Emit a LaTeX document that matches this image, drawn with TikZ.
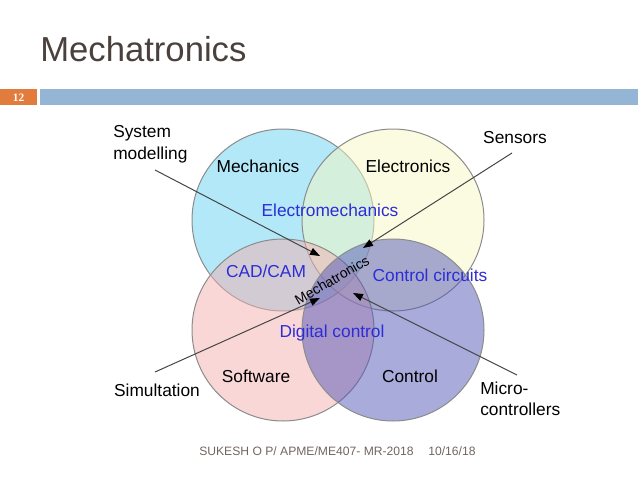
\documentclass[tikz,border=0pt]{standalone}
\usepackage{fontspec}
\setmainfont{Liberation Sans}
\newfontfamily\numfont{Liberation Serif}
\usetikzlibrary{arrows.meta}

\definecolor{titlegray}{RGB}{74,64,60}
\definecolor{slideorange}{RGB}{226,124,60}
\definecolor{slideblue}{RGB}{148,182,212}
\definecolor{mechfill}{RGB}{103,209,241}
\definecolor{elecfill}{RGB}{247,247,195}
\definecolor{softfill}{RGB}{243,175,175}
\definecolor{ctrlfill}{RGB}{83,87,183}
\definecolor{rimgray}{RGB}{140,140,140}
\definecolor{overlapblue}{RGB}{45,45,215}
\definecolor{footgray}{RGB}{115,100,95}

\tikzset{
  venn/.style={draw=rimgray, line width=0.75, fill opacity=0.5},
  field/.style={font=\fontsize{13}{15}\selectfont, inner sep=0},
  blend/.style={field, text=overlapblue},
  outer/.style={field, align=left},
  pointer/.style={draw={rgb, 255:red, 70; green, 70; blue, 70}, line width=0.75,
    -{Triangle[length=7.5pt,width=5.5pt,color=black]}}
}

\begin{document}
\begin{tikzpicture}[x=0.75pt,y=0.75pt,yscale=-1,xscale=1]
\useasboundingbox (0,0) rectangle (638,478);

%Title
\node [anchor=base west, inner sep=0, text=titlegray, font=\fontsize{26}{30}\selectfont] (title) at (40,61.5) {Mechatronics};
%Shape: Rectangle
\fill [slideorange] (0,89) rectangle (37,105);
\node [text=white, inner sep=0, font=\numfont\bfseries\fontsize{8.5}{9}\selectfont] (pagenum) at (18.5,97.5) {12};
%Shape: Rectangle
\fill [slideblue] (40,89) rectangle (638,105);

%Shape: Circle
\draw [venn, fill=mechfill] (283,220) circle (91);
%Shape: Circle
\draw [venn, fill=elecfill] (393,220) circle (91);
%Shape: Circle
\draw [venn, fill=softfill] (283,330) circle (91);
%Shape: Circle
\draw [venn, fill=ctrlfill] (393,330) circle (91);

%Circle labels
\node [field] (mech) at (258,166) {Mechanics};
\node [field] (elec) at (408,166) {Electronics};
\node [field] (soft) at (256,376) {Software};
\node [field] (ctrl) at (410,376) {Control};
%Overlap labels
\node [blend] (elmech) at (330,210) {Electromechanics};
\node [blend] (cadcam) at (266,271) {CAD/CAM};
\node [blend] (ctrlcirc) at (430,275) {Control circuits};
\node [blend] (digctrl) at (332,333) {Digital control};
\node [inner sep=0, rotate=30, font=\fontsize{10.5}{12}\selectfont] (mechatr) at (332,280) {Mechatronics};

%Outer labels
\node [outer, anchor=west, font=\fontsize{13}{16.5}\selectfont] (sysmod) at (113,144) {System\\modelling};
\node [outer] (sensors) at (515,138) {Sensors};
\node [outer] (simul) at (157,390) {Simultation};
\node [outer, anchor=west, font=\fontsize{13}{15.75}\selectfont] (micro) at (480,398.5) {Micro-\\controllers};

%Straight Lines
\coordinate (sysfoot) at (155,170);
\coordinate (systip) at (320,256);
\coordinate (sensfoot) at (512,153);
\coordinate (senstip) at (363,248);
\coordinate (simfoot) at (155,372);
\coordinate (simtip) at (320,298);
\coordinate (microfoot) at (517,375);
\coordinate (microtip) at (353,293);
\draw [pointer] (sysfoot) -- (systip);
\draw [pointer] (sensfoot) -- (senstip);
\draw [pointer] (simfoot) -- (simtip);
\draw [pointer] (microfoot) -- (microtip);

%Footer
\node [anchor=west, inner sep=0, text=footgray, font=\fontsize{9.1}{11}\selectfont] (author) at (199,451) {SUKESH O P/ APME/ME407- MR-2018};
\node [anchor=west, inner sep=0, text=footgray, font=\fontsize{9.1}{11}\selectfont] (date) at (428,451) {10/16/18};
\end{tikzpicture}
\end{document}
